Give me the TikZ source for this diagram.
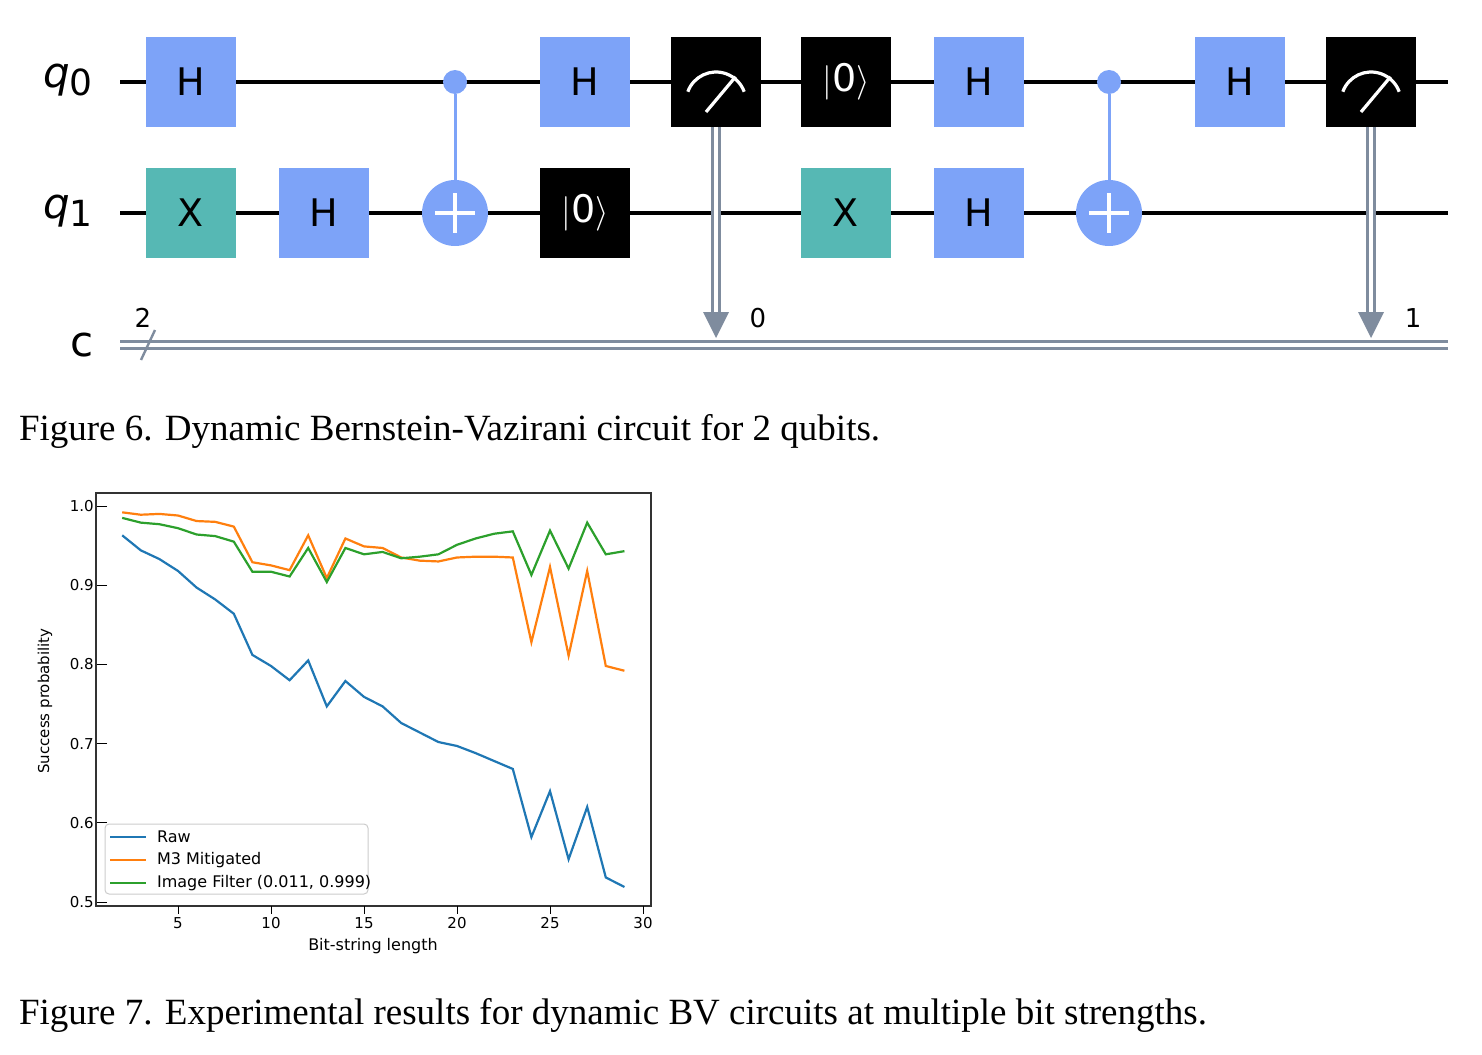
\documentclass[tikz,border=0pt]{standalone}
\usepackage{fontspec}
\setmainfont{Liberation Serif}
\newfontfamily\djv{DejaVu Sans}
\usetikzlibrary{shapes}
\usetikzlibrary{arrows}

\definecolor{gateblue}{HTML}{7DA3F8}
\definecolor{gateteal}{HTML}{56B8B4}
\definecolor{cgray}{HTML}{7F8C9E}
\definecolor{mplblue}{HTML}{1F77B4}
\definecolor{mplorange}{HTML}{FF7F0E}
\definecolor{mplgreen}{HTML}{2CA02C}

\tikzset{
  gate/.style={minimum width=45pt, minimum height=45pt, inner sep=0pt,
    font=\djv\fontsize{19}{22}\selectfont},
  gH/.style={gate, fill=gateblue},
  gX/.style={gate, fill=gateteal},
  gblack/.style={gate, fill=black, text=white},
  wire/.style={line width=1.6pt, black},
  cwire/.style={draw=cgray, double=white, double distance=2.2pt, line width=1.3pt},
  tick/.style={font=\djv\fontsize{7.5}{9}\selectfont},
  curve/.style={line width=1.1pt},
}

\begin{document}
\begin{tikzpicture}[x=0.5pt, y=-0.5pt]
 \useasboundingbox (0,0) rectangle (1482,1054);

 % ---- circuit ----
 \path (120,82) coordinate (W0l);
 \path (1448,82) coordinate (W0r);
 \path (120,213) coordinate (W1l);
 \path (1448,213) coordinate (W1r);
 \path (120,345) coordinate (Cl);
 \path (1448,345) coordinate (Cr);

 \draw[wire] (W0l) -- (W0r);
 \draw[wire] (W1l) -- (W1r);
 \draw[cwire] (Cl) -- (Cr);

 \node[font=\djv\fontsize{21}{24}\selectfont] (lq0) at (68,80) {\itshape q\raisebox{-4pt}{\upshape\fontsize{18}{20}\selectfont 0}};
 \node[font=\djv\fontsize{21}{24}\selectfont] (lq1) at (68,211) {\itshape q\raisebox{-4pt}{\upshape\fontsize{18}{20}\selectfont 1}};
 \node[font=\djv\fontsize{21}{24}\selectfont] (lc) at (82,345) {c};

 \draw[cgray, line width=1.2pt] (141,360) -- (155,330);
 \node[font=\djv\fontsize{13}{15}\selectfont] (n2) at (143,318) {2};

 \node[gH] (h1) at (191,82) {H};
 \node[gX] (x1) at (191,213) {X};
 \node[gH] (h2) at (324,213) {H};
 \node[gH] (h3) at (585,82) {H};
 \node[gblack] (r1) at (585,213) {$|$0$\rangle$};
 \node[gblack] (m0) at (716,82) {};
 \node[gblack] (r0) at (846,82) {$|$0$\rangle$};
 \node[gX] (x2) at (846,213) {X};
 \node[gH] (h4) at (979,82) {H};
 \node[gH] (h5) at (979,213) {H};
 \node[gH] (h6) at (1240,82) {H};
 \node[gblack] (m1) at (1371,82) {};

 % cnots
 \foreach \cx/\nm in {455/a, 1109/b}
 {
   \node[circle, fill=gateblue, minimum size=12pt, inner sep=0pt] (ctl\nm) at (\cx,82) {};
   \node[circle, fill=gateblue, minimum size=33pt, inner sep=0pt] (tgt\nm) at (\cx,213) {};
   \draw[gateblue, line width=1.5pt] (ctl\nm) -- (tgt\nm);
   \draw[white, line width=1.6pt] (tgt\nm.center) ++(-20,0) -- ++(40,0);
   \draw[white, line width=1.6pt] (tgt\nm.center) ++(0,-20) -- ++(0,40);
 }

 % meters
 \foreach \m/\cx/\bit in {m0/716/0, m1/1371/1}
 {
   \draw[white, line width=1.6pt] (\cx,102) ++(200:30) arc[start angle=200, end angle=340, radius=30];
   \draw[white, line width=1.6pt] (\cx-10,112) -- ++(-50:46);
   \path (\cx,314) coordinate (\m a);
   \draw[cwire] (\m.south) -- (\m a);
   \fill[cgray] (\cx,338) -- ++(-13,-26) -- ++(26,0) -- cycle;
   \node[font=\djv\fontsize{13}{15}\selectfont] (lb\bit) at (\cx+42,318) {\bit};
 }

 \node[anchor=west, font=\fontsize{18.5}{21}\selectfont] (cap6) at (12,431) {Figure 6. Dynamic Bernstein-Vazirani circuit for 2 qubits.};

 % ---- plot ----
 \draw[line width=0.6pt, black!80] (96,493) rectangle (651,906);
 \begin{scope}[shift={(85,1298)}, x=9.3pt, y=396pt]
   \foreach \v in {0.5,0.6,0.7,0.8,0.9,1.0}
   {
     \draw[line width=0.5pt] (1.19,\v) -- ++(-5pt,0);
     \node[tick, anchor=east] at (0.85,\v) {\v};
   }
   \foreach \n in {5,10,15,20,25,30}
   {
     \draw[line width=0.5pt] (\n,0.495) -- ++(0,-4pt);
     \node[tick] at (\n,0.4735) {\n};
   }
   \draw[mplblue, curve] plot coordinates {(2,0.963) (3,0.944) (4,0.933) (5,0.918) (6,0.897) (7,0.882) (8,0.864) (9,0.812) (10,0.798) (11,0.780) (12,0.805) (13,0.747) (14,0.779) (15,0.759) (16,0.747) (17,0.726) (18,0.714) (19,0.702) (20,0.697) (21,0.688) (22,0.678) (23,0.668) (24,0.582) (25,0.640) (26,0.554) (27,0.620) (28,0.531) (29,0.519)};
   \draw[mplorange, curve] plot coordinates {(2,0.992) (3,0.989) (4,0.990) (5,0.988) (6,0.981) (7,0.980) (8,0.974) (9,0.929) (10,0.925) (11,0.919) (12,0.963) (13,0.909) (14,0.959) (15,0.949) (16,0.947) (17,0.935) (18,0.931) (19,0.930) (20,0.935) (21,0.936) (22,0.936) (23,0.935) (24,0.828) (25,0.923) (26,0.811) (27,0.918) (28,0.798) (29,0.792)};
   \draw[mplgreen, curve] plot coordinates {(2,0.985) (3,0.979) (4,0.977) (5,0.972) (6,0.964) (7,0.962) (8,0.955) (9,0.917) (10,0.917) (11,0.911) (12,0.947) (13,0.904) (14,0.947) (15,0.939) (16,0.942) (17,0.934) (18,0.936) (19,0.939) (20,0.951) (21,0.959) (22,0.965) (23,0.968) (24,0.913) (25,0.969) (26,0.921) (27,0.979) (28,0.939) (29,0.943)};
 \end{scope}

 % legend
 \draw[black!20, fill=white, fill opacity=0.8, rounded corners=2pt, line width=0.5pt] (105,824) rectangle (368,894);
 \foreach \y/\c/\t in {837/mplblue/Raw, 860/mplorange/M3 Mitigated, 883/mplgreen/{Image Filter (0.011, 0.999)}}
 {
   \draw[\c, curve] (110,\y) -- (146,\y);
   \node[tick, anchor=west, font=\djv\fontsize{8}{9}\selectfont] at (150,\y) {\t};
 }

 \node[rotate=90, font=\djv\fontsize{7.5}{9}\selectfont] (ylab) at (45,701) {Success probability};
 \node[font=\djv\fontsize{8}{9}\selectfont] (xlab) at (373,946) {Bit-string length};

 \node[anchor=west, font=\fontsize{18.5}{21}\selectfont] (cap7) at (12,1015) {Figure 7. Experimental results for dynamic BV circuits at multiple bit strengths.};
\end{tikzpicture}
\end{document}
